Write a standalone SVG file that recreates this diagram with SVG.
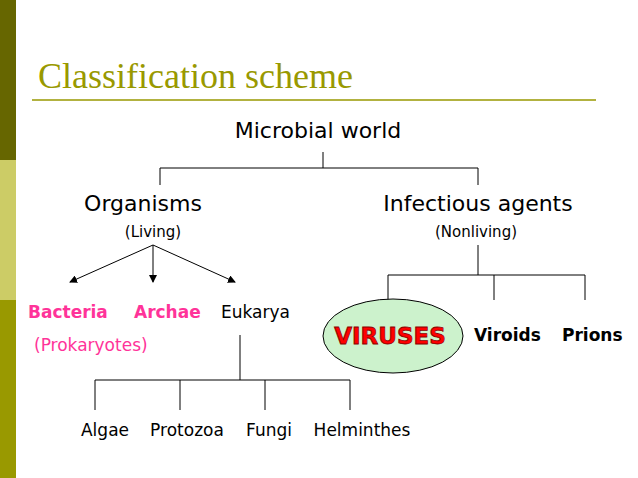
<svg xmlns="http://www.w3.org/2000/svg" width="638" height="478" viewBox="0 0 638 478">
<style>
.t{font-family:"DejaVu Sans",Verdana,sans-serif;fill:#000}
.l{stroke:#000;stroke-width:1;fill:none}
.b{font-family:"DejaVu Sans",Verdana,sans-serif;font-weight:bold;font-size:17px}
</style>
<defs><marker id="a" markerWidth="8" markerHeight="8" refX="7" refY="4" orient="auto" markerUnits="userSpaceOnUse"><path d="M0,0L8,4L0,8z" fill="#000"/></marker></defs>
<rect width="638" height="478" fill="#fff"/>
<rect x="0" y="0" width="16" height="160" fill="#666600"/>
<rect x="0" y="160" width="16" height="140" fill="#cccc66"/>
<rect x="0" y="300" width="16" height="178" fill="#999900"/>
<text x="38" y="88" font-family="Liberation Serif,serif" font-size="36" fill="#999900">Classification scheme</text>
<line x1="32" y1="100" x2="596" y2="100" stroke="#999900" stroke-width="1.5"/>
<g id="connectors">
<path class="l" d="M323,152V168M160,185V168H478V185"/>
<path class="l" marker-end="url(#a)" d="M153,245L70,282"/>
<path class="l" marker-end="url(#a)" d="M153,245V282"/>
<path class="l" marker-end="url(#a)" d="M153,245L235,282"/>
<path class="l" d="M478,245V275M388,300V275H585V300M494,275V300"/>
<path class="l" d="M240,335V380M95,410V380H350V410M180,380V410M265,380V410"/>
</g>
<g id="microbial"><text class="t" x="318" y="138" font-size="22" text-anchor="middle">Microbial world</text></g>
<g id="organisms"><text class="t" x="143" y="211" font-size="22" text-anchor="middle">Organisms</text><text class="t" x="153" y="237" font-size="15" text-anchor="middle">(Living)</text></g>
<g id="infectious"><text class="t" x="478" y="211" font-size="22" text-anchor="middle">Infectious agents</text><text class="t" x="476" y="237" font-size="15" text-anchor="middle">(Nonliving)</text></g>
<g id="bacteria"><text class="b" x="28" y="318" fill="#ff3399">Bacteria</text><text class="t" x="34" y="351" font-size="17" fill="#ff3399" style="fill:#ff3399">(Prokaryotes)</text></g>
<g id="archae"><text class="b" x="134" y="318" fill="#ff3399">Archae</text></g>
<g id="eukarya"><text class="t" x="221" y="318" font-size="17">Eukarya</text></g>
<g id="viruses"><ellipse cx="393" cy="336" rx="70" ry="37" fill="#ccf2cc" stroke="#000"/><text x="390" y="344" font-family="DejaVu Sans,Verdana,sans-serif" font-weight="bold" font-size="23" fill="#ff0000" stroke="#800" stroke-width="0.8" text-anchor="middle">VIRUSES</text></g>
<g id="viroids"><text class="b" x="474" y="341">Viroids</text></g>
<g id="prions"><text class="b" x="562" y="341">Prions</text></g>
<g id="algae"><text class="t" x="105" y="436" font-size="17" text-anchor="middle">Algae</text></g>
<g id="protozoa"><text class="t" x="187" y="436" font-size="17" text-anchor="middle">Protozoa</text></g>
<g id="fungi"><text class="t" x="269" y="436" font-size="17" text-anchor="middle">Fungi</text></g>
<g id="helminthes"><text class="t" x="362" y="436" font-size="17" text-anchor="middle">Helminthes</text></g>
</svg>
